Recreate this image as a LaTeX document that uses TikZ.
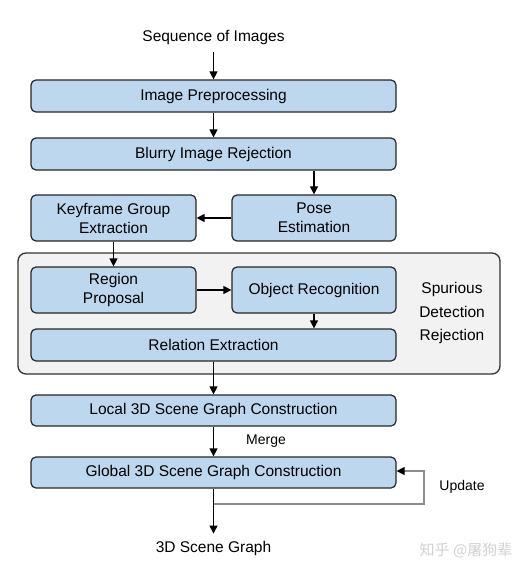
\documentclass[tikz,border=0pt]{standalone}
\usepackage{fontspec}
\setmainfont{Liberation Sans}
\newfontfamily\cjk{Noto Sans CJK SC}
\usepackage{tikz}
\usetikzlibrary{arrows.meta, positioning, calc}

\definecolor{boxblue}{RGB}{189,215,238}
\definecolor{panelgray}{RGB}{242,242,242}
\definecolor{loopgray}{RGB}{140,140,140}

\tikzset{
    stage/.style={draw=black!85, line width=1.2pt, rounded corners=5pt, fill=boxblue,
        align=center, inner sep=0pt, font=\fontsize{15.5}{19}\selectfont},
    label/.style={align=center, inner sep=2pt, font=\fontsize{15.5}{19}\selectfont},
    arr/.style={-{Triangle[length=8pt, width=8pt]}, line width=1.2pt},
}

\begin{document}
\begin{tikzpicture}[x=1pt, y=-1pt]
        \useasboundingbox (0, 0) rectangle (530, 578);

        \node[draw=black!80, line width=1.3pt, rounded corners=8pt, fill=panelgray, minimum width=482pt, minimum height=121pt] at (259, 313.5)   (sdr) {};

        \node[label] at (213.5, 38)   (seq) {Sequence of Images};
        \node[stage, minimum width=365pt, minimum height=32pt] at (213.5, 96)   (pre) {Image Preprocessing};
        \node[stage, minimum width=365pt, minimum height=32pt] at (213.5, 154)   (blur) {Blurry Image Rejection};
        \node[stage, minimum width=165pt, minimum height=46pt] at (113.5, 218)   (key) {Keyframe Group\\Extraction};
        \node[stage, minimum width=164pt, minimum height=46pt] at (314, 218)   (pose) {Pose\\Estimation};
        \node[stage, minimum width=165pt, minimum height=46pt] at (113.5, 290)   (reg) {Region\\Proposal};
        \node[stage, minimum width=164pt, minimum height=46pt] at (314, 290)   (obj) {Object Recognition};
        \node[stage, minimum width=365pt, minimum height=32pt] at (213.5, 345)   (rel) {Relation Extraction};
        \node[label, font=\fontsize{15.5}{23.5}\selectfont] at (452, 313)   (spur) {Spurious\\Detection\\Rejection};
        \node[stage, minimum width=365pt, minimum height=31pt] at (213.5, 410.5)   (local) {Local 3D Scene Graph Construction};
        \node[label, font=\fontsize{14}{17}\selectfont] at (266, 441)   (merge) {Merge};
        \node[stage, minimum width=365pt, minimum height=31pt] at (213.5, 472.5)   (glob) {Global 3D Scene Graph Construction};
        \node[label] at (213.5, 548)   (res) {3D Scene Graph};
        \node[label, font=\fontsize{14}{17}\selectfont] at (462, 487)   (upd) {Update};
        \coordinate (loop) at (424, 504);

        \draw [arr, shorten <=5pt] (seq) -- (pre);
        \draw [arr] (pre) -- (blur);
        \draw [arr] (blur.south -| pose.north) -- (pose.north);
        \draw [arr] (pose) -- (key);
        \draw [arr] (key) -- (reg);
        \draw [arr] (reg) -- (obj);
        \draw [arr] (obj.south) -- (obj.south |- rel.north);
        \draw [arr] (rel) -- (local);
        \draw [arr] (local) -- (glob);
        \draw [arr, shorten >=5pt] (glob) -- (res);
        \draw [-{Triangle[length=8pt, width=8pt, color=black]}, line width=1.2pt, draw=loopgray] (glob.south |- loop) -- (loop) |- ($(glob.east)+(0,-1.5)$);

        \node[text=black!18, font=\cjk\fontsize{15}{18}\selectfont] at (466, 550)   (mark) {知乎 @屠狗辈};
    \end{tikzpicture}
\end{document}
